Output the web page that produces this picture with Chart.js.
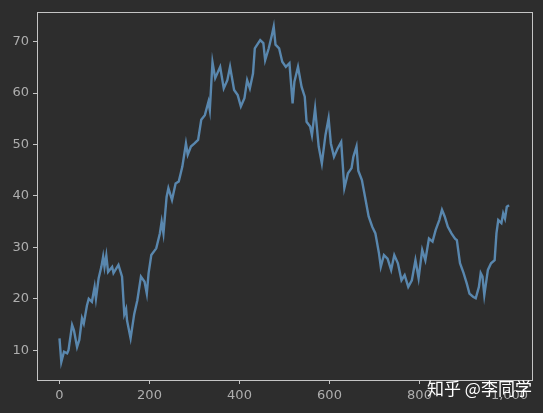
<!DOCTYPE html>
<html>
<head>
<meta charset="utf-8">
<script src="https://cdn.jsdelivr.net/npm/chart.js@4/dist/chart.umd.min.js"></script>
<style>
  html, body { margin: 0; padding: 0; background: #2d2d2d; }
  #wrap { width: 543px; height: 413px; }
</style>
</head>
<body>
<div id="wrap"><canvas id="grafico"></canvas></div>
<script>
// passos (eixo x) e valores
const passos = [0, 4, 10, 17, 20, 28, 32, 39, 44, 50, 54, 61, 65, 72, 78, 81, 87, 93, 97, 100, 104, 108, 117, 120, 131, 139, 144, 148, 150, 158, 166, 173, 181, 189, 194, 198, 204, 215, 223, 227, 231, 238, 242, 250, 258, 265, 273, 281, 285, 292, 300, 308, 315, 323, 331, 334, 340, 346, 357, 365, 373, 379, 388, 396, 403, 411, 417, 423, 430, 434, 446, 453, 457, 465, 472, 476, 480, 488, 495, 503, 511, 518, 522, 530, 538, 545, 549, 557, 561, 568, 576, 583, 591, 598, 603, 610, 618, 626, 633, 641, 649, 653, 660, 664, 672, 679, 687, 695, 702, 710, 714, 721, 729, 737, 744, 752, 760, 767, 775, 783, 791, 798, 806, 813, 821, 829, 836, 844, 850, 856, 863, 871, 879, 883, 890, 898, 905, 911, 919, 925, 932, 936, 940, 944, 952, 959, 967, 971, 975, 982, 986, 990, 994, 999];
const valores = [12.3, 7.7, 9.7, 9.4, 10, 14.9, 13.9, 10.6, 12, 16.2, 15.2, 18.7, 20, 19.4, 22.3, 20, 24, 26.2, 28.2, 26.2, 28.4, 25.2, 26.2, 25, 26.6, 24.3, 17, 18, 15.8, 12.3, 17, 19.7, 24.3, 23.3, 21, 25, 28.5, 29.8, 32.7, 35, 32.7, 39.8, 41.5, 39.2, 42.4, 42.8, 45.7, 50.2, 48, 49.6, 50.2, 50.9, 54.8, 55.7, 58.3, 56.7, 66, 62.9, 65.1, 60.9, 62.5, 65.1, 60.6, 59.6, 57.4, 59, 62.5, 60.9, 63.8, 68.7, 70.3, 69.7, 66.4, 68.7, 71.3, 72.9, 69.4, 68.7, 66.1, 65.1, 65.8, 58, 62.2, 65.1, 61.2, 59.3, 54.4, 53.5, 51.8, 57, 49.6, 46.3, 51.8, 55.1, 50.2, 47.6, 49.2, 50.5, 41.5, 44.4, 45.4, 47.6, 49.6, 44.9, 43.1, 39.8, 36, 34, 32.7, 28.8, 26.2, 28.5, 27.8, 25.6, 28.5, 26.9, 23.6, 24.6, 22.3, 23.6, 27.5, 24, 29.5, 27.5, 31.7, 31.1, 33.4, 35.3, 37.3, 36, 34, 32.7, 31.7, 31.4, 26.9, 25, 23, 21, 20.4, 20.1, 22.3, 25, 24.3, 20.7, 25.6, 26.9, 27.5, 32.7, 35.3, 34.7, 36.6, 35.6, 37.9, 38.2];
const ticksX = [0, 200, 400, 600, 800, 1000];
const ticksY = [10, 20, 30, 40, 50, 60, 70];

const corTexto = "#aeaeae";
const corEixo = "#c4c4c4";

// moldura em volta da área do gráfico + marca d'água
const moldura = {
  id: "moldura",
  afterDraw(chart) {
    const { ctx, chartArea: a } = chart;
    ctx.save();
    ctx.strokeStyle = corEixo;
    ctx.lineWidth = 1;
    ctx.strokeRect(Math.round(a.left) + 0.5, Math.round(a.top) + 0.5,
      Math.round(a.right - a.left), Math.round(a.bottom - a.top));
    ctx.fillStyle = "#ffffff";
    ctx.font = "17px 'Noto Sans CJK SC'";
    ctx.textBaseline = "middle";
    ctx.fillText("知乎 @李同学", 427, 389);
    ctx.restore();
  }
};

const ctx = document.getElementById("grafico").getContext("2d");
new Chart(ctx, {
  type: "line",
  data: {
    labels: passos,
    datasets: [{
      data: passos.map((p, i) => ({ x: p, y: valores[i] })),
      borderColor: "#5987ae",
      borderWidth: 2.4,
      pointRadius: 0,
      tension: 0,
      fill: false
    }]
  },
  plugins: [moldura],
  options: {
    responsive: true,
    maintainAspectRatio: false,
    animation: false,
    layout: { padding: { top: 11, right: 11, left: 0, bottom: 0 } },
    plugins: { legend: { display: false }, tooltip: { enabled: false } },
    scales: {
      x: {
        type: "linear",
        min: -50,
        max: 1050,
        afterBuildTicks: s => { s.ticks = ticksX.map(v => ({ value: v })); },
        afterFit: s => { s.height = 33; },
        grid: { drawOnChartArea: false, drawTicks: true, tickLength: 4, color: corEixo },
        border: { display: false },
        ticks: { color: corTexto, font: { family: "DejaVu Sans", size: 13 }, padding: 4, maxRotation: 0 }
      },
      y: {
        min: 4.2,
        max: 75.8,
        afterBuildTicks: s => { s.ticks = ticksY.map(v => ({ value: v })); },
        afterFit: s => { s.width = 37; },
        grid: { drawOnChartArea: false, drawTicks: true, tickLength: 4, color: corEixo },
        border: { display: false },
        ticks: { color: corTexto, font: { family: "DejaVu Sans", size: 13 }, padding: 4 }
      }
    }
  }
});
</script>
</body>
</html>
